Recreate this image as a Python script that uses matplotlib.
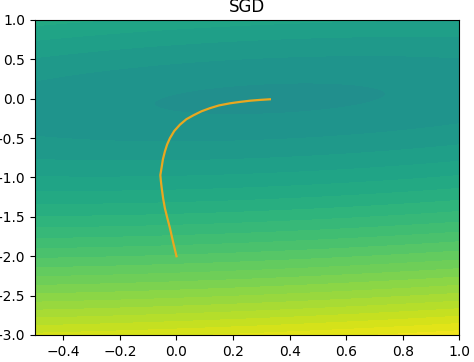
import numpy as np
import matplotlib
matplotlib.use("Agg")
import matplotlib.pyplot as plt

# Trajectory
traj_x = [0.0, -0.012, -0.023, -0.032, -0.041, -0.047, -0.052, -0.055, -0.057,
          -0.052, -0.048, -0.041, -0.033, -0.023, -0.008, 0.012, 0.035, 0.060,
          0.088, 0.118, 0.150, 0.189, 0.225, 0.260, 0.295, 0.330]
traj_y = [-2.0, -1.82, -1.645, -1.52, -1.39, -1.27, -1.14, -1.05, -0.97,
          -0.86, -0.77, -0.67, -0.58, -0.50, -0.41, -0.33, -0.26, -0.21,
          -0.16, -0.12, -0.085, -0.058, -0.04, -0.025, -0.015, -0.007]

# Background loss surface parameters (tilted bowl)
center = (0.33, 0.0)
coef_xx, coef_xy, coef_yy = 0.24, -0.30, 1.0
scale, power = 0.078, 0.8
base_level = 0.5
level_step = 0.022
inner = 0.0055

x = np.linspace(-0.5, 1.0, 500)
y = np.linspace(-3.0, 1.0, 500)
X, Y = np.meshgrid(x, y)
dX = X - center[0]
dY = Y - center[1]
Q = coef_xx * dX**2 + coef_xy * dX * dY + coef_yy * dY**2
Z = base_level + scale * np.clip(Q, 0, None) ** power

first = base_level + inner
levels = np.arange(first - level_step, Z.max() + level_step, level_step)

fig = plt.figure(figsize=(4.74, 3.62), dpi=100)
ax = fig.add_axes([0.0738, 0.0746, 0.8956, 0.8702])
ax.contourf(X, Y, Z, levels=levels, cmap="viridis", vmin=0.0, vmax=1.0)
ax.plot(traj_x, traj_y, color="#e9a820", lw=1.6)
ax.set_xlim(-0.5, 1.0)
ax.set_ylim(-3.0, 1.0)
ax.set_title("SGD")
fig.savefig("out.png", dpi=100)
